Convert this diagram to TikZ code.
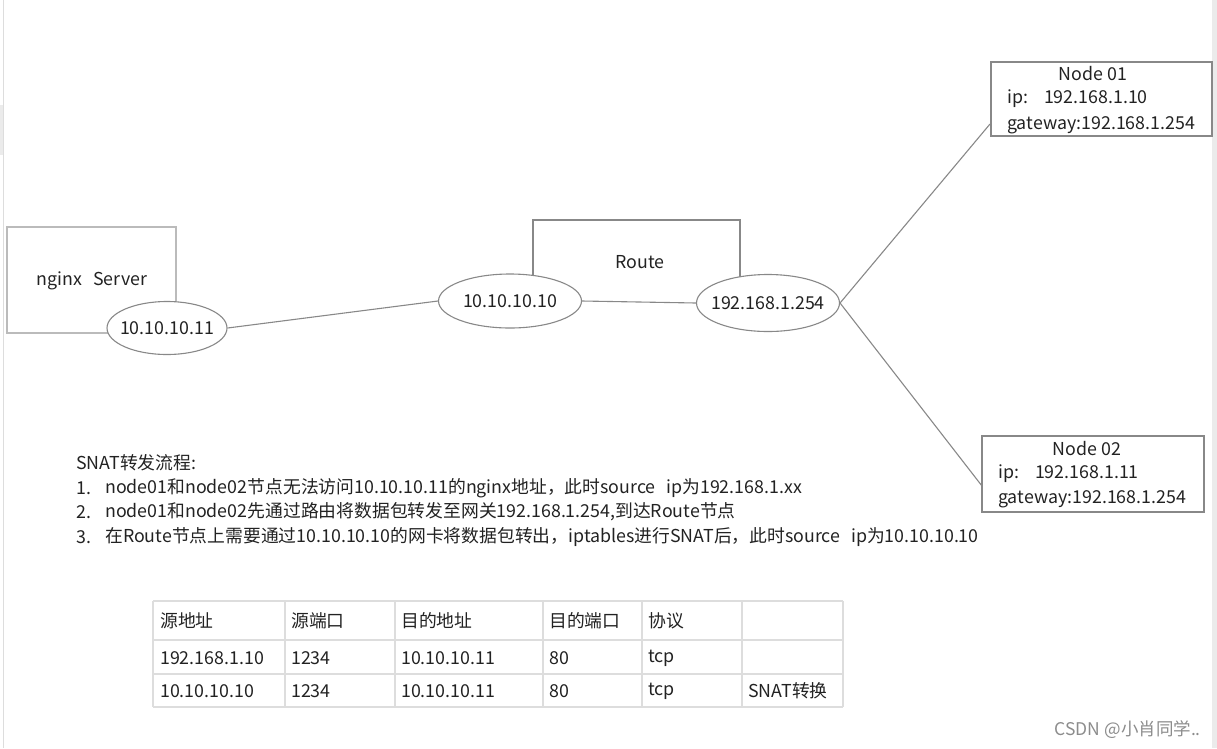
\documentclass[tikz,border=0pt]{standalone}
\usepackage{fontspec}
\setmainfont{Noto Sans CJK SC}
\usetikzlibrary{shapes.geometric}
\definecolor{txt}{HTML}{222222}
\definecolor{edge}{HTML}{888888}
\definecolor{lightedge}{HTML}{BBBBBB}
\definecolor{grid}{HTML}{DDDDDD}
\begin{document}
\begin{tikzpicture}[x=1pt,y=-1pt,
  every node/.style={text=txt,font=\fontsize{17.8}{20}\selectfont},
  boxline/.style={draw=edge,line width=1.2pt},
  port/.style={ellipse,draw=edge,line width=1.1pt,fill=white,inner sep=0pt},
  link/.style={draw=edge,line width=1.1pt},
  plain/.style={anchor=west,inner sep=0pt},
  cell/.style={anchor=west,inner sep=0pt}]
\useasboundingbox (0,0) rectangle (1217,748);
% page edges
\draw[draw=grid,line width=1pt] (3.5,0) -- (3.5,748);
\fill[grid!60] (0,105) rectangle (3,155);
\fill[grid!60] (1212,0) rectangle (1217,748);
% nginx server
\draw[draw=lightedge,line width=1.5pt] (7,227) rectangle (176,333);
\node (nginx) at (92,281) {nginx\hspace{0.6em}Server};
\node[port,minimum width=120pt,minimum height=53pt] (e11) at (167,328) {};
\node (e11t) at (e11.center) {10.10.10.11};
% route
\draw[boxline] (533,299) -- (533,220) -- (740,220) -- (740,299);
\node (route) at (640,262) {Route};
\node[port,minimum width=143pt,minimum height=54pt] (e10) at (510,301) {};
\node (e10t) at (e10.center) {10.10.10.10};
\node[port,minimum width=143pt,minimum height=57pt] (e254) at (768,303) {};
\node (e254t) at (e254.center) {192.168.1.254};
% node boxes
\node[draw=edge,line width=1.2pt,minimum width=221pt,minimum height=74pt,inner sep=0pt] (n1) at (1101.5,99) {};
\node (n1t) at (1093,74) {Node 01};
\node[plain] (n1ip) at (1007,99) {ip:\hspace{0.9em}192.168.1.10};
\node[plain] (n1gw) at (1007,125) {gateway:192.168.1.254};
\node[draw=edge,line width=1.2pt,minimum width=222pt,minimum height=76pt,inner sep=0pt] (n2) at (1093,474) {};
\node (n2t) at (1087,449) {Node 02};
\node[plain] (n2ip) at (998,474) {ip:\hspace{0.9em}192.168.1.11};
\node[plain] (n2gw) at (998,499) {gateway:192.168.1.254};
% links
\draw[link] (e11.east) -- (e10.west);
\draw[link] (e10.east) -- (e254.west);
\coordinate (n1in) at (990,124);
\coordinate (n2in) at (982,486);
\draw[link] (e254.east) -- (n1in);
\draw[link] (e254.east) -- (n2in);
% notes
\node[plain] (t0) at (76,463) {SNAT转发流程:};
\node[plain] (t1n) at (76,488) {1.};
\node[plain] (t1) at (105,488) {node01和node02节点无法访问10.10.10.11的nginx地址，此时source\hspace{0.6em}ip为192.168.1.xx};
\node[plain] (t2n) at (76,512) {2.};
\node[plain] (t2) at (105,512) {node01和node02先通过路由将数据包转发至网关192.168.1.254,到达Route节点};
\node[plain] (t3n) at (76,537) {3.};
\node[plain] (t3) at (105,537) {在Route节点上需要通过10.10.10.10的网卡将数据包转出，iptables进行SNAT后，此时source\hspace{0.6em}ip为10.10.10.10};
% table grid
\foreach \y in {601,640,674,707} \draw[grid,line width=1.5pt] (153,\y) -- (843,\y);
\foreach \x in {153,285,395,543,642,742,843} \draw[grid,line width=1.5pt] (\x,601) -- (\x,707);
% table text
\node[cell] (c11) at (160,621) {源地址};
\node[cell] (c12) at (291,621) {源端口};
\node[cell] (c13) at (401,621) {目的地址};
\node[cell] (c14) at (549,621) {目的端口};
\node[cell] (c15) at (648,621) {协议};
\node[cell] (c21) at (160,658) {192.168.1.10};
\node[cell] (c22) at (291,658) {1234};
\node[cell] (c23) at (401,658) {10.10.10.11};
\node[cell] (c24) at (549,658) {80};
\node[cell] (c25) at (648,658) {tcp};
\node[cell] (c31) at (160,691) {10.10.10.10};
\node[cell] (c32) at (291,691) {1234};
\node[cell] (c33) at (401,691) {10.10.10.11};
\node[cell] (c34) at (549,691) {80};
\node[cell] (c35) at (648,691) {tcp};
\node[cell] (c36) at (748,691) {SNAT转换};
% watermark
\node[anchor=east,inner sep=0pt,text=black!45,font=\fontsize{17.5}{20}\selectfont] (wm) at (1201,730) {CSDN @小肖同学..};
\end{tikzpicture}
\end{document}
